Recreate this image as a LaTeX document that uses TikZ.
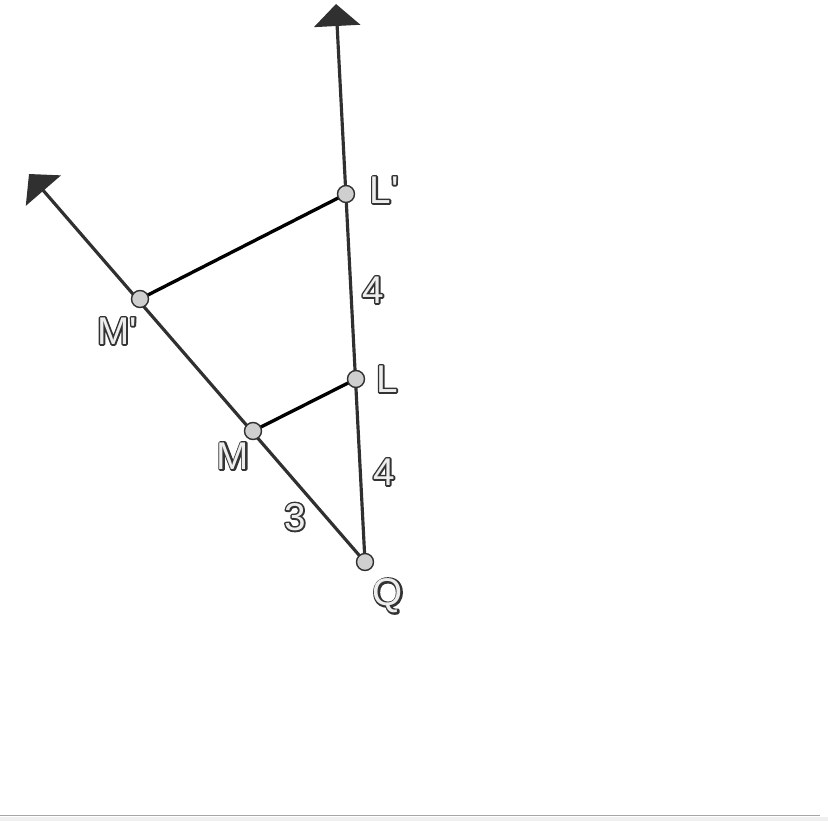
\documentclass[tikz,border=0pt]{standalone}
\usepackage{fontspec}
\setmainfont{Liberation Sans}
\usetikzlibrary{arrows.meta}
\definecolor{linegray}{HTML}{303030}
\definecolor{ptfill}{HTML}{CFCFCF}
\definecolor{txtfill}{HTML}{EDEDED}
\newcommand{\olbl}[1]{\rlap{\special{pdf:literal direct 0.2 G 1 Tr 1.9 w 1 j}#1\special{pdf:literal direct 0 Tr}}{\color{txtfill}#1}}
\begin{document}
\begin{tikzpicture}[x=0.02cm,y=-0.02cm,
  ray/.style={draw=linegray,line width=1.8pt,-{Triangle[length=0.44cm,width=0.92cm]}},
  seg/.style={draw=black,line width=1.9pt},
  pt/.style={circle,draw=linegray,fill=ptfill,line width=0.8pt,minimum size=0.34cm,inner sep=0pt},
  lbl/.style={font=\fontsize{22}{26}\selectfont,inner sep=0pt}]
\useasboundingbox (0,0) rectangle (828,821);
\fill[black!6] (0,817) rectangle (828,821);
\draw[black!35,line width=1.1pt] (0,815.5) -- (820,815.5);
% points
\coordinate (Qc) at (365,562);
\coordinate (Lc) at (356,379);
\coordinate (Lpc) at (346,194);
\coordinate (Mc) at (253,431);
\coordinate (Mpc) at (140,299);
\coordinate (tipU) at (336,4);
\coordinate (tipL) at (29,174);
% rays
\draw[ray] (Qc) -- (tipU);
\draw[ray] (Qc) -- (tipL);
% segments
\draw[seg] (Mpc) -- (Lpc);
\draw[seg] (Mc) -- (Lc);
% point markers
\node[pt] (Q) at (Qc) {};
\node[pt] (L) at (Lc) {};
\node[pt] (Lp) at (Lpc) {};
\node[pt] (M) at (Mc) {};
\node[pt] (Mp) at (Mpc) {};
% labels
\node[lbl] (tLp) at (384,190) {\olbl{L\textquotesingle}};
\node[lbl] (t4a) at (373,290) {\olbl{4}};
\node[lbl] (tL) at (387,379) {\olbl{L}};
\node[lbl] (t4b) at (384,472) {\olbl{4}};
\node[lbl] (tM) at (233,456) {\olbl{M}};
\node[lbl] (t3) at (295,517) {\olbl{3}};
\node[lbl] (tQ) at (388,596) {\olbl{Q}};
\node[lbl] (tMp) at (117,331) {\olbl{M\textquotesingle}};
\end{tikzpicture}
\end{document}
